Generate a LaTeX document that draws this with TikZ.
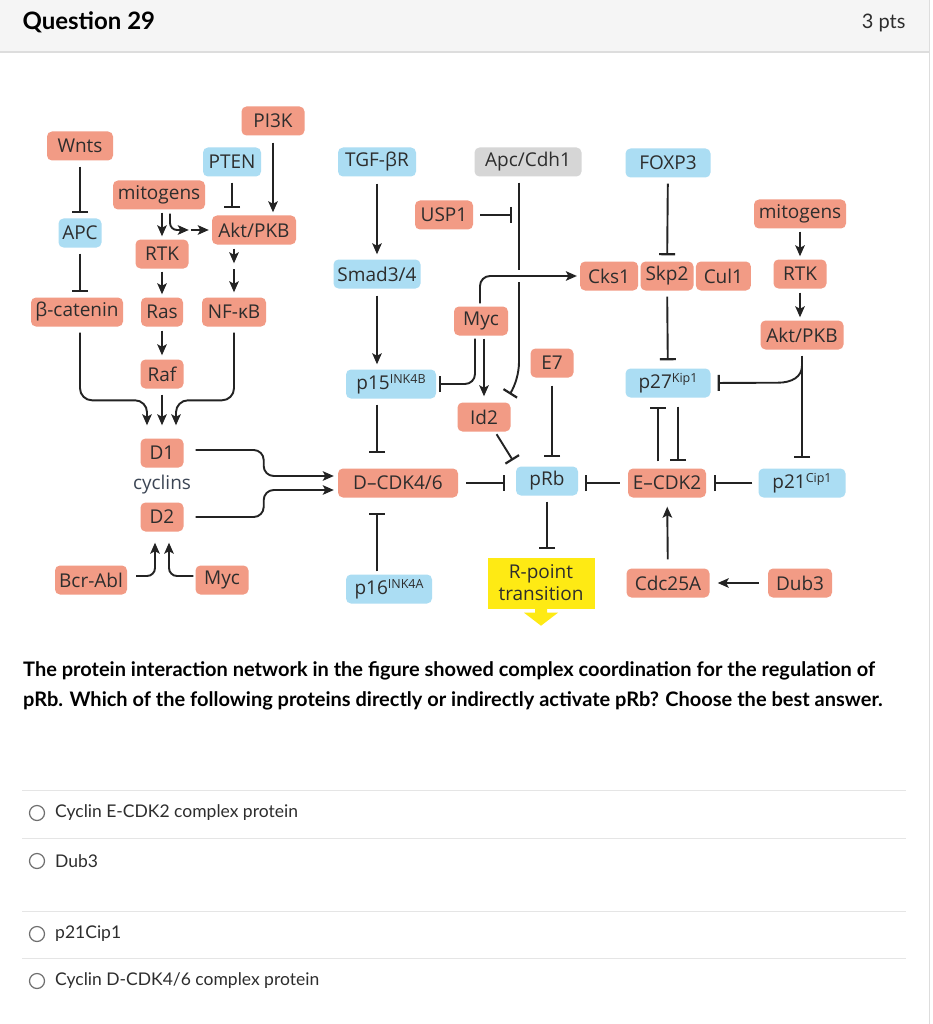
\documentclass[tikz,border=0pt]{standalone}
\usepackage{fontspec}
\setmainfont{Lato}
\newfontfamily\boxfamily[Ligatures=TeX]{Open Sans}
\usetikzlibrary{arrows.meta, positioning, calc}

\definecolor{salmon}{RGB}{242,155,133}
\definecolor{skyblue}{RGB}{171,221,243}
\definecolor{apcgray}{RGB}{214,214,214}
\definecolor{rpyellow}{RGB}{254,234,20}
\definecolor{inktext}{RGB}{45,45,45}
\definecolor{cyclintext}{RGB}{60,70,85}
\definecolor{linkline}{RGB}{35,35,35}
\definecolor{headfill}{RGB}{245,245,245}
\definecolor{headrule}{RGB}{221,221,221}
\definecolor{seprule}{RGB}{229,229,229}
\definecolor{radiogray}{RGB}{110,110,110}

\newcommand{\boxfont}{\boxfamily\fontsize{19}{22}\selectfont}
\newcommand{\supr}[1]{\raisebox{6pt}{\fontsize{12.5}{13}\selectfont #1}}

\tikzset{
  protbox/.style={rounded corners=5pt, text=inktext, font=\boxfont,
    inner xsep=2pt, inner ysep=0pt, minimum height=29pt, minimum width=#1},
  protbox/.default=53pt,
  salmonbox/.style={protbox=#1, fill=salmon},
  salmonbox/.default=53pt,
  bluebox/.style={protbox=#1, fill=skyblue},
  bluebox/.default=53pt,
  link/.style={line width=1.9pt, draw=linkline, shorten <=6pt, shorten >=5pt},
  actarrow/.style={link, -{Stealth[length=11pt,width=9.5pt,inset=2.5pt]}},
  inhibit/.style={link, -{Bar[width=16pt,line width=2.2pt]}},
}

\begin{document}
\begin{tikzpicture}[x=1pt, y=-1pt]

    % page and header
    \fill[white] (0,0) rectangle (932,1024);
    \path[use as bounding box] (0,0) rectangle (932,1024);
    \fill[headfill] (0,0) rectangle (929,52);
    \draw[headrule, line width=1.5pt] (0,52) -- (929,52);
    \draw[headrule, line width=1pt] (929,0) -- (929,1024);
    \node[anchor=west, font=\bfseries\fontsize{24}{26}\selectfont, text=black] (qtitle) at (19,22) {Question 29};
    \node[anchor=east, font=\fontsize{20}{22}\selectfont, text=inktext] (qpts) at (909,23) {3 pts};

    % left column
    \node[salmonbox=66pt] (wnts) at (80,146) {Wnts};
    \node[salmonbox=63pt] (pithreek) at (273,121) {PI3K};
    \node[bluebox=58pt] (pten) at (232,162) {PTEN};
    \node[salmonbox=92pt] (mitoL) at (159,195) {mitogens};
    \node[bluebox=43pt] (apc) at (80,233) {APC};
    \node[salmonbox=84pt] (aktL) at (254,230) {Akt/PKB};
    \node[salmonbox=53pt] (rtkL) at (162,254) {RTK};
    \node[salmonbox=92pt] (bcat) at (77,312) {β-catenin};
    \node[salmonbox=42pt] (ras) at (162,312) {Ras};
    \node[salmonbox=64pt] (nfkb) at (234,312) {NF-κB};
    \node[salmonbox=43pt] (raf) at (162,374) {Raf};
    \node[salmonbox=43pt] (done) at (162,453) {D1};
    \node[font=\boxfont, text=cyclintext] (cyclins) at (162,485) {cyclins};
    \node[salmonbox=43pt] (dtwo) at (162,517) {D2};
    \node[salmonbox=72pt] (bcrabl) at (91,580) {Bcr-Abl};
    \node[salmonbox=53pt] (mycL) at (222,580) {Myc};

    % middle column
    \node[bluebox=78pt] (tgf) at (377,162) {TGF-βR};
    \node[protbox=107pt, fill=apcgray] (apccdh) at (528,162) {Apc/Cdh1};
    \node[salmonbox=58pt] (usp) at (444,215) {USP1};
    \node[bluebox=87pt] (smad) at (377,274) {Smad3/4};
    \node[salmonbox=54pt] (mycM) at (481,321) {Myc};
    \node[bluebox=90pt] (pfifteen) at (391,384) {p15\supr{INK4B}};
    \node[salmonbox=43pt] (eseven) at (552,363) {E7};
    \node[salmonbox=53pt] (idtwo) at (484,417) {Id2};
    \node[salmonbox=120pt] (dcdk) at (398,483) {D–CDK4/6};
    \node[bluebox=62pt] (prb) at (547,481) {pRb};
    \node[bluebox=86pt] (psixteen) at (389,589) {p16\supr{INK4A}};
    \node[protbox=107pt, rounded corners=0pt, minimum height=51pt, fill=rpyellow,
          align=center] (rpoint) at (541,583) {R-point\\transition};

    % right column
    \node[bluebox=85pt] (foxp) at (668,163) {FOXP3};
    \node[salmonbox=92pt] (mitoR) at (800,214) {mitogens};
    \node[salmonbox=53pt] (skp) at (667,276) {Skp2};
    \node[salmonbox=58pt, left=2pt of skp] (cks) {Cks1};
    \node[salmonbox=55pt, right=2pt of skp] (cul) {Cul1};
    \node[salmonbox=53pt] (rtkR) at (800,274) {RTK};
    \node[salmonbox=83pt] (aktR) at (802,335) {Akt/PKB};
    \node[bluebox=85pt] (ptwoseven) at (668,383) {p27\supr{Kip1}};
    \node[salmonbox=78pt] (ecdk) at (667,483) {E–CDK2};
    \node[bluebox=87pt] (ptwentyone) at (802,483) {p21\supr{Cip1}};
    \node[salmonbox=83pt] (cdc) at (668,583) {Cdc25A};
    \node[salmonbox=64pt] (dub) at (800,583) {Dub3};

    % yellow exit arrow
    \fill[rpyellow] ($(rpoint.south)+(-6,-1)$) -- ($(rpoint.south)+(6,-1)$) -- ($(rpoint.south)+(6,4)$)
        -- ($(rpoint.south)+(17,4)$) -- ($(rpoint.south)+(0,17)$) -- ($(rpoint.south)+(-17,4)$)
        -- ($(rpoint.south)+(-6,4)$) -- cycle;

    % left links
    \draw[inhibit] (wnts) -- (apc);
    \draw[inhibit] (apc.south) -- (apc.south |- bcat.north);
    \draw[actarrow, shorten <=7pt, shorten >=3pt] (pithreek.south) -- (pithreek.south |- aktL.north);
    \draw[inhibit, shorten >=7pt] (pten.south) -- (pten.south |- aktL.north);
    \draw[actarrow, shorten <=3pt, shorten >=3pt] (mitoL.south -| rtkL.north) -- (rtkL.north);
    \coordinate (mitojoin) at ($(aktL.west)+(-22,0)$);
    \draw[actarrow, rounded corners=7pt, shorten <=4pt, shorten >=1pt] ([xshift=11pt]mitoL.south) |- (mitojoin);
    \draw[actarrow, shorten <=1pt, shorten >=3pt] (mitojoin) -- (aktL.west);
    \coordinate (aktmid) at ($(nfkb.north)+(0,-29)$);
    \draw[actarrow, shorten <=4pt] (aktL.south -| nfkb.north) -- (aktmid);
    \draw[actarrow, shorten <=1pt] (aktmid) -- (nfkb.north);
    \draw[actarrow, shorten <=3pt, shorten >=3pt] (rtkL) -- (ras);
    \draw[actarrow, shorten <=4pt, shorten >=4pt] (ras) -- (raf);
    \draw[actarrow, rounded corners=12pt, shorten >=13pt] ([xshift=3pt]bcat.south) |- ($(done.north)+(-15,-38)$) -- ($(done.north)+(-15,0)$);
    \draw[actarrow, shorten >=13pt] (raf) -- (done);
    \draw[actarrow, rounded corners=12pt, shorten >=13pt] (nfkb.south) |- ($(done.north)+(14,-38)$) -- ($(done.north)+(14,0)$);
    \draw[actarrow, rounded corners=10pt, shorten <=12pt, shorten >=4pt] ([yshift=3pt]done.east) -- ++(80,0) |- ($(dcdk.west)+(0,-7)$);
    \draw[actarrow, rounded corners=10pt, shorten <=12pt, shorten >=4pt] (dtwo.east) -- ++(80,0) |- ($(dcdk.west)+(0,7)$);
    \draw[actarrow, rounded corners=8pt, shorten <=9pt, shorten >=11pt] ([yshift=4pt]bcrabl.east) -| ($(dtwo.south)+(-7,0)$);
    \draw[actarrow, rounded corners=8pt, shorten <=2pt, shorten >=11pt] ([yshift=4pt]mycL.west) -| ($(dtwo.south)+(7,0)$);

    % middle links
    \draw[actarrow, shorten <=7pt] (tgf) -- (smad);
    \draw[actarrow, shorten <=7pt] (smad.south) -- (smad.south |- pfifteen.north);
    \draw[inhibit, shorten >=15pt] (smad.south |- pfifteen.south) -- (smad.south |- dcdk.north);
    \draw[inhibit, shorten <=3pt, shorten >=15pt] (smad.south |- psixteen.north) -- (smad.south |- dcdk.south);
    \coordinate (apcx) at ($(apccdh.south)+(-9,0)$);
    \coordinate (cross) at (apcx |- cks.west);
    \draw[link, shorten >=0pt] (apcx) -- ($(cross)+(0,-6)$);
    \draw[inhibit, shorten <=0pt, shorten >=0pt] ($(cross)+(0,6)$) -- ($(cross)+(0,86)$)
        .. controls +(0,12) and +(5,-8) .. ($(idtwo.north east)+(-1,-8)$);
    \draw[inhibit, shorten <=7pt, shorten >=7pt] (usp.east) -- (usp.east -| apcx);
    \draw[actarrow, rounded corners=10pt, shorten <=3pt, shorten >=3pt] ([xshift=-1pt]mycM.north) |- (cks.west);
    \draw[inhibit, rounded corners=10pt, shorten <=3pt, shorten >=3pt] ([xshift=-6pt]mycM.south) |- (pfifteen.east);
    \draw[actarrow, shorten <=3pt, shorten >=6pt] ([xshift=3pt]mycM.south) -- ([xshift=3pt]mycM.south |- idtwo.north);
    \draw[inhibit, shorten <=3pt, shorten >=0pt] ([xshift=11pt]idtwo.south) -- ($(prb.north west)+(-3,-6)$);
    \draw[inhibit, shorten <=8pt, shorten >=9pt] (eseven.south) -- (eseven.south |- prb.north);
    \draw[inhibit, shorten <=8pt, shorten >=11pt] (dcdk.east) -- (dcdk.east -| prb.west);
    \draw[inhibit, shorten <=6pt, shorten >=8pt] (prb.south) -- (prb.south |- rpoint.north);

    % right links
    \draw[inhibit, shorten >=6pt] (foxp) -- (skp);
    \draw[inhibit, shorten >=8pt] (skp) -- (ptwoseven);
    \draw[actarrow, shorten <=3pt, shorten >=3pt] (mitoR) -- (rtkR);
    \draw[actarrow, shorten <=4pt, shorten >=3pt] (rtkR.south) -- (rtkR.south |- aktR.north);
    \draw[inhibit, shorten >=10pt] (aktR) -- (ptwentyone);
    \draw[inhibit, shorten <=0pt, shorten >=7pt] ($(aktR.south)+(0,16)$) .. controls +(0,11) and +(14,0) ..
        ($(aktR.south)+(-24,33)$) -- (ptwoseven.east);
    \draw[inhibit, shorten <=9pt, shorten >=7pt] ([xshift=10pt]ptwoseven.south) -- ([xshift=10pt]ptwoseven.south |- ecdk.north);
    \draw[inhibit, shorten <=7pt, shorten >=9pt] ([xshift=-9pt]ecdk.north) -- ([xshift=-9pt]ecdk.north |- ptwoseven.south);
    \draw[inhibit, shorten <=8pt, shorten >=7pt] (ecdk.west) -- (ecdk.west -| prb.east);
    \draw[inhibit, shorten <=6pt, shorten >=8pt] (ptwentyone.west) -- (ptwentyone.west -| ecdk.east);
    \draw[actarrow, shorten <=9pt, shorten >=9pt] (cdc) -- (ecdk);
    \draw[actarrow, shorten <=9pt, shorten >=8pt] (dub) -- (cdc);

    % question text
    \node[anchor=west, font=\bfseries\fontsize{20}{22}\selectfont, text=black, inner sep=0pt] (qline1) at (23,671)
        {The protein interaction network in the figure showed complex coordination for the regulation of};
    \node[anchor=west, font=\bfseries\fontsize{20}{22}\selectfont, text=black, inner sep=0pt] (qline2) at (23,701)
        {pRb. Which of the following proteins directly or indirectly activate pRb? Choose the best answer.};

    % answer options
    \foreach \y in {790,838,911,958} {
        \draw[seprule, line width=1pt] (22,\y) -- (906,\y);
    }
    \foreach \y/\txt in {813/{Cyclin E-CDK2 complex protein}, 861/{Dub3}, 934/{p21Cip1}, 981/{Cyclin D-CDK4/6 complex protein}} {
        \draw[radiogray, line width=1.2pt] (37,\y) circle (7.5pt);
        \node[anchor=west, font=\fontsize{17.5}{19}\selectfont, text=inktext, inner sep=0pt] (opt\y) at (55,\y) {\txt};
    }
\end{tikzpicture}
\end{document}
